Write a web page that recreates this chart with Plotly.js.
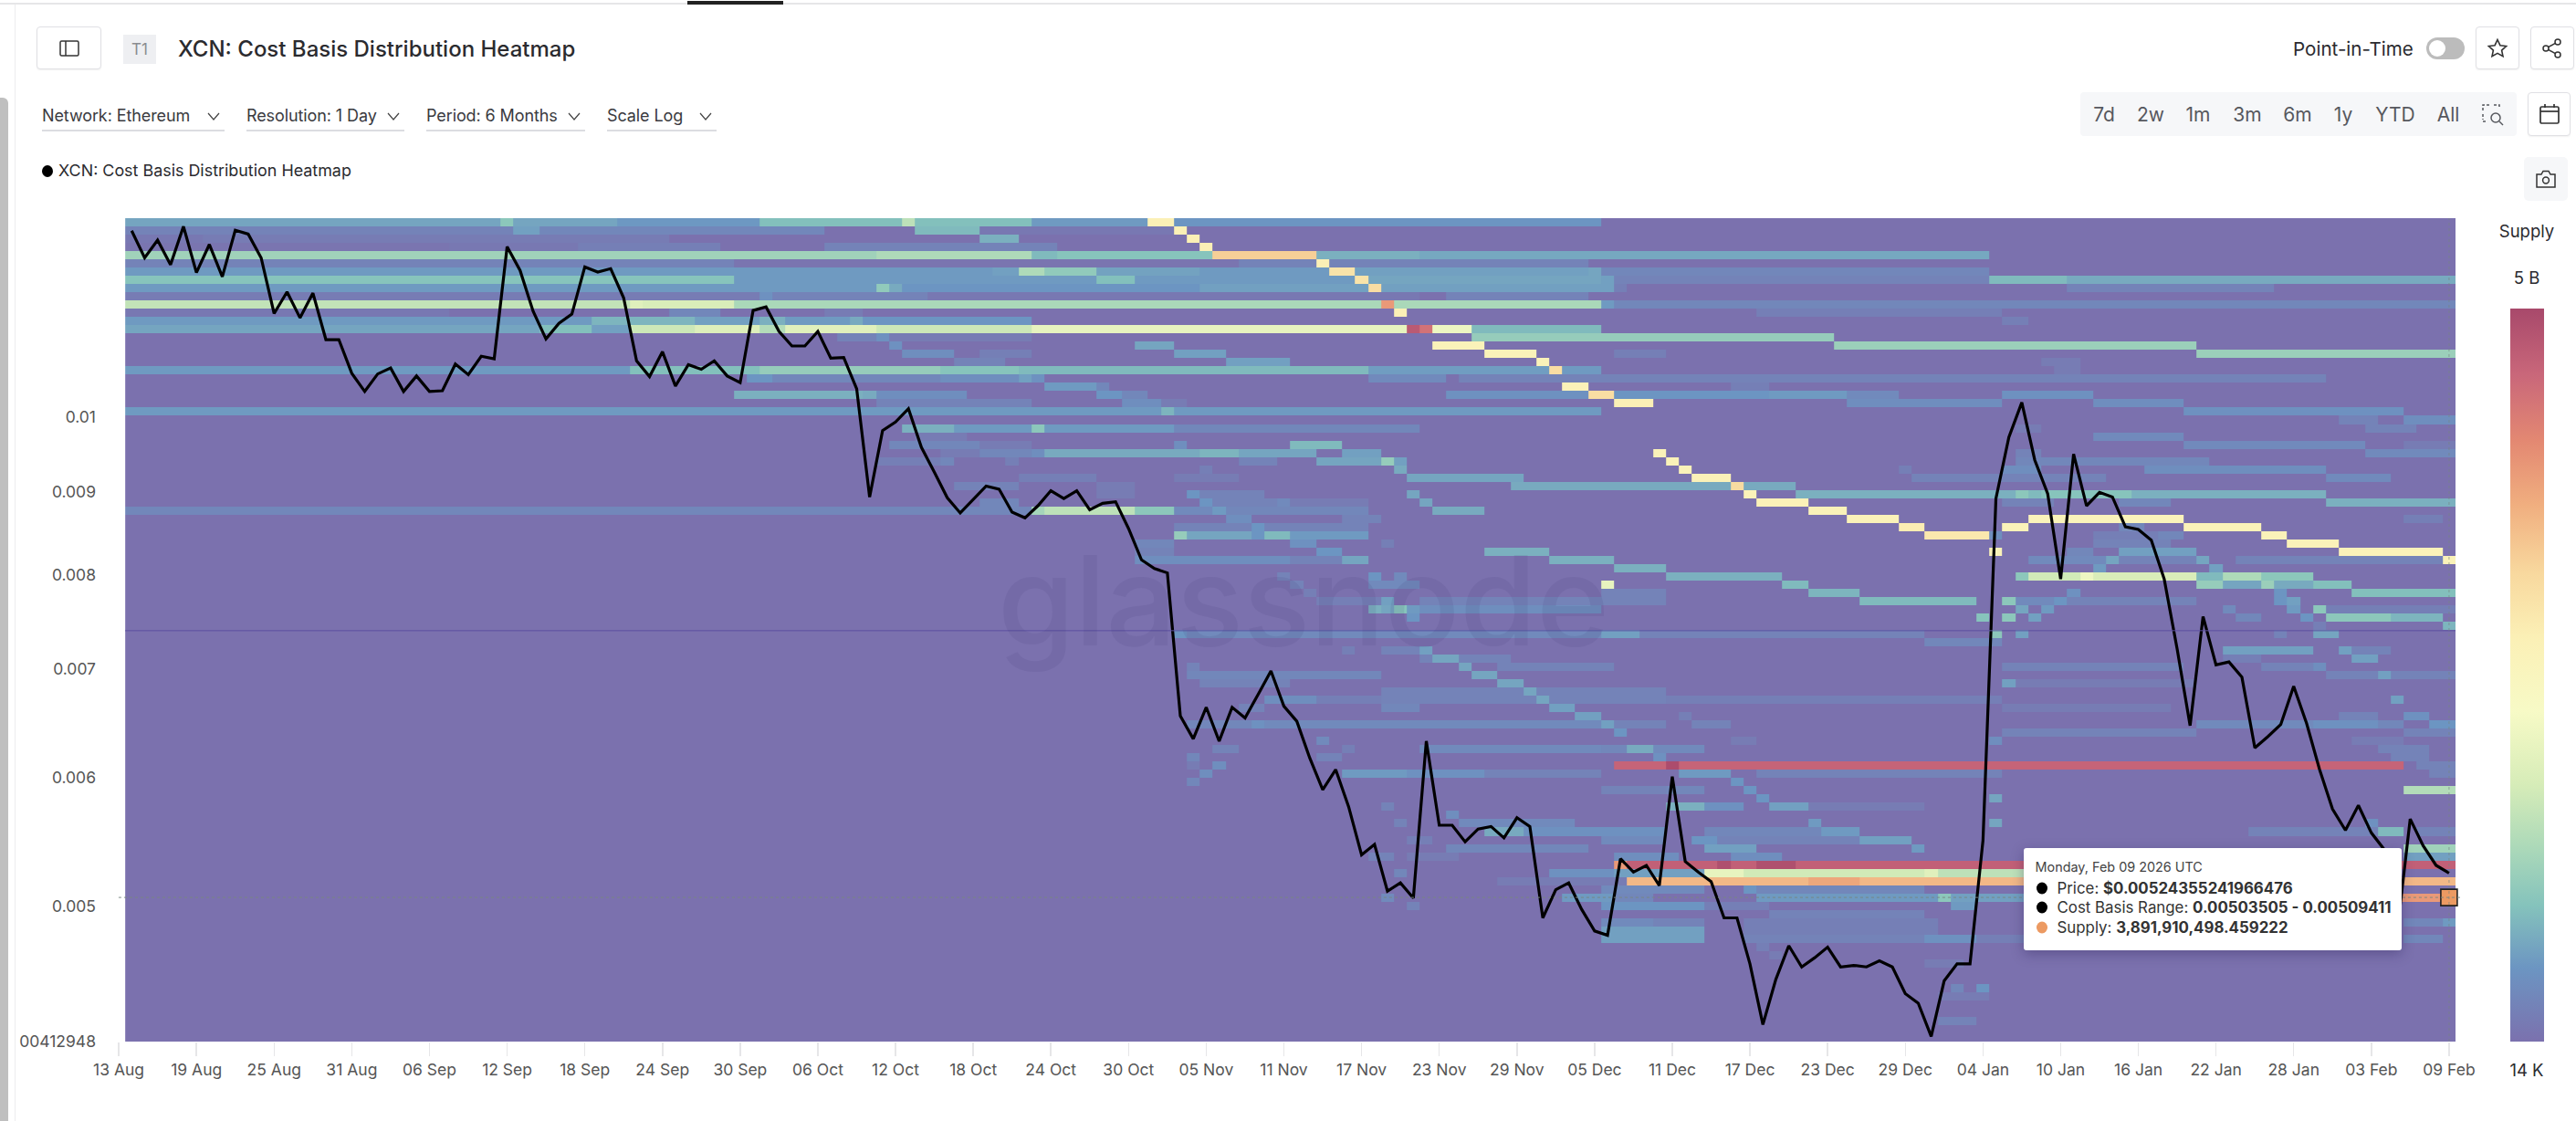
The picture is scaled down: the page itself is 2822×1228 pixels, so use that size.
<!DOCTYPE html>
<html>
<head>
<meta charset="utf-8">
<title>XCN: Cost Basis Distribution Heatmap</title>
<script src="https://cdn.plot.ly/plotly-3.0.1.min.js"></script>
<style>
html,body{margin:0;padding:0;background:#fff;width:2822px;height:1228px;overflow:hidden;font-family:Inter,"Noto Sans",sans-serif;color:#2b2b2f}
#chart{position:absolute;left:0;top:0;width:2822px;height:1228px}
.a{position:absolute;white-space:nowrap}
.v{transform:translateY(-50%)}
.c{transform:translate(-50%,-50%)}
.btn{position:absolute;box-sizing:border-box;border:1.5px solid #e0e0e4;border-radius:4px;background:#fff;box-shadow:0 1px 2px rgba(0,0,0,.06);display:flex;align-items:center;justify-content:center}
.dd{font-size:18px;color:#3a3a40;letter-spacing:-.1px}
.ul{position:absolute;height:1.5px;background:#dcdde1;top:142px}
.rng{font-size:21px;color:#56585e}
#tip{position:absolute;left:2217px;top:929px;width:414px;height:112px;background:#fff;border-radius:3px;box-shadow:0 4px 14px rgba(40,30,80,.35)}
#tip .r{position:absolute;left:36.5px;font-size:16.85px;color:#333;white-space:nowrap;transform:translateY(-50%)}
#tip .d{position:absolute;left:14px;width:12px;height:13px;border-radius:50%;transform:translateY(-50%)}
</style>
</head>
<body>
<div id="chart"></div>

<!-- page chrome -->
<div class="a" style="left:0;top:3px;width:2822px;height:2px;background:#e6e6e8"></div>
<div class="a" style="left:753px;top:1px;width:105px;height:4px;background:#222"></div>
<div class="a" style="left:16px;top:5px;width:1px;height:1223px;background:#ececee"></div>
<div class="a" style="left:0;top:107px;width:9px;height:1121px;background:#bfbfbf;border-radius:0 6px 0 0"></div>

<div class="btn" style="left:40px;top:29px;width:71px;height:47px">
 <svg width="22" height="18" viewBox="0 0 22 18" fill="none" stroke="#333" stroke-width="1.5"><rect x="1" y="1" width="20" height="16" rx="1.5"/><line x1="7" y1="1" x2="7" y2="17"/></svg>
</div>
<div class="a" style="left:135px;top:38px;width:36px;height:32px;background:#eeeff2;color:#8a8b90;font-size:17px;line-height:32px;text-align:center">T1</div>
<div class="a v" style="left:195px;top:53px;font-size:24px;font-weight:500;color:#2b2b2f">XCN: Cost Basis Distribution Heatmap</div>

<div class="a v dd" style="left:46px;top:126px">Network: Ethereum</div>
<svg class="a" style="left:227px;top:123px" width="14" height="9" fill="none" stroke="#444" stroke-width="1.2"><path d="M1 1 L7 8 L13 1"/></svg>
<div class="ul" style="left:46px;width:200px"></div>
<div class="a v dd" style="left:270px;top:126px">Resolution: 1 Day</div>
<svg class="a" style="left:424px;top:123px" width="14" height="9" fill="none" stroke="#444" stroke-width="1.2"><path d="M1 1 L7 8 L13 1"/></svg>
<div class="ul" style="left:270px;width:173px"></div>
<div class="a v dd" style="left:467px;top:126px">Period: 6 Months</div>
<svg class="a" style="left:622px;top:123px" width="14" height="9" fill="none" stroke="#444" stroke-width="1.2"><path d="M1 1 L7 8 L13 1"/></svg>
<div class="ul" style="left:467px;width:174px"></div>
<div class="a v dd" style="left:665px;top:126px">Scale Log</div>
<svg class="a" style="left:766px;top:123px" width="14" height="9" fill="none" stroke="#444" stroke-width="1.2"><path d="M1 1 L7 8 L13 1"/></svg>
<div class="ul" style="left:665px;width:120px"></div>

<div class="a" style="left:46px;top:181px;width:12px;height:13px;border-radius:50%;background:#000"></div>
<div class="a v" style="left:64px;top:186px;font-size:17.9px;color:#2b2b2f">XCN: Cost Basis Distribution Heatmap</div>

<div class="a v" style="left:2512px;top:53px;font-size:20.6px;color:#2b2b2f">Point-in-Time</div>
<div class="a" style="left:2658px;top:41px;width:42px;height:24px;background:#bcbcbc;border-radius:12px"></div>
<div class="a" style="left:2661px;top:44px;width:18px;height:18px;background:#fff;border-radius:50%"></div>
<div class="btn" style="left:2712px;top:29px;width:48px;height:47px">
 <svg width="24" height="24" viewBox="0 0 24 24" fill="none" stroke="#333" stroke-width="1.6"><path d="M12 2.5 l2.9 6.2 6.7 .8 -5 4.6 1.4 6.7 -6-3.4 -6 3.4 1.4-6.7 -5-4.6 6.7-.8z"/></svg>
</div>
<div class="btn" style="left:2772px;top:29px;width:48px;height:47px">
 <svg width="22" height="22" viewBox="0 0 22 22" fill="none" stroke="#333" stroke-width="1.5"><circle cx="4" cy="11" r="3"/><circle cx="17" cy="4" r="3"/><circle cx="17" cy="18" r="3"/><line x1="6.7" y1="9.6" x2="14.3" y2="5.4"/><line x1="6.7" y1="12.4" x2="14.3" y2="16.6"/></svg>
</div>

<div class="a" style="left:2279px;top:101px;width:478px;height:48px;background:#f6f7f9;border-radius:4px"></div>
<div class="a c rng" style="left:2305px;top:125px">7d</div>
<div class="a c rng" style="left:2356px;top:125px">2w</div>
<div class="a c rng" style="left:2408px;top:125px">1m</div>
<div class="a c rng" style="left:2462px;top:125px">3m</div>
<div class="a c rng" style="left:2517px;top:125px">6m</div>
<div class="a c rng" style="left:2567px;top:125px">1y</div>
<div class="a c rng" style="left:2624px;top:125px">YTD</div>
<div class="a c rng" style="left:2682px;top:125px">All</div>
<svg class="a" style="left:2719px;top:114px" width="24" height="24" viewBox="0 0 24 24" fill="none" stroke="#56585e" stroke-width="1.5"><path d="M1 7 V1 H8 M13 1 H19 V5 M1 11 V17 M1 19 H6" stroke-dasharray="3 2"/><circle cx="15" cy="15" r="5"/><line x1="19" y1="19" x2="23" y2="23"/></svg>
<div class="btn" style="left:2769px;top:101px;width:47px;height:48px">
 <svg width="24" height="24" viewBox="0 0 24 24" fill="none" stroke="#333" stroke-width="1.7"><rect x="2" y="4" width="20" height="18" rx="1.5"/><line x1="2" y1="9" x2="22" y2="9"/><line x1="7" y1="1" x2="7" y2="5"/><line x1="17" y1="1" x2="17" y2="5"/></svg>
</div>
<div class="a" style="left:2765px;top:172px;width:48px;height:48px;background:#f6f7f9;border-radius:5px;display:flex;align-items:center;justify-content:center">
 <svg width="22" height="20" viewBox="0 0 22 20" fill="none" stroke="#333" stroke-width="1.5"><path d="M1 5 H6 L8 1.5 H14 L16 5 H21 V19 H1 Z"/><circle cx="11" cy="11.5" r="3.4"/></svg>
</div>

<div class="a c" style="left:2768px;top:253px;font-size:18.5px;color:#2b2b2f">Supply</div>
<div class="a c" style="left:2768px;top:304px;font-size:18.5px;color:#2b2b2f">5 B</div>
<div class="a c" style="left:2768px;top:1172px;font-size:18.5px;color:#2b2b2f">14 K</div>

<div id="tip">
 <div class="r" style="left:12.5px;top:20px;font-size:14.4px;color:#444">Monday, Feb 09 2026 UTC</div>
 <div class="d" style="top:44px;background:#000"></div>
 <div class="r" style="top:44px">Price: <b style="font-weight:700">$0.00524355241966476</b></div>
 <div class="d" style="top:65px;background:#000"></div>
 <div class="r" style="top:65px">Cost Basis Range: <b style="font-weight:700">0.00503505 - 0.00509411</b></div>
 <div class="d" style="top:87px;background:#ec9a62"></div>
 <div class="r" style="top:87px">Supply: <b style="font-weight:700">3,891,910,498.459222</b></div>
</div>

<script>
// ---- Axis labels ----------------------------------------------------
const startDate = '2025-08-13';
const dayCount = 180;                    // columns run from day 1 to day 180 after startDate
const yTickVals = [0.00412948, 0.005, 0.006, 0.007, 0.008, 0.009, 0.01];
const yTickText = ['00412948', '0.005', '0.006', '0.007', '0.008', '0.009', '0.01'];

// ---- Cost basis price bins: log spaced, 100 rows ---------------------
const binStart = 0.00412948;
const binRatio = 1.01173;
const binCount = 100;

// ---- Price series, one value per day (day 1 ... day 180) -------------
const price = [
0.01302,0.01253,0.01285,0.01241,0.01310,0.01227,0.01277,0.01220,0.01303,0.01296,
0.01253,0.01158,0.01194,0.01151,0.01192,0.01116,0.01116,0.01064,0.01037,0.01063,
0.01072,0.01037,0.01060,0.01037,0.01038,0.01078,0.01062,0.01090,0.01086,0.01273,
0.01231,0.01162,0.01117,0.01142,0.01157,0.01237,0.01228,0.01234,0.01184,0.01083,
0.01059,0.01097,0.01045,0.01077,0.01070,0.01083,0.01060,0.01050,0.01163,0.01169,
0.01129,0.01106,0.01106,0.01129,0.01087,0.01088,0.01041,0.00893,0.00981,0.00993,
0.01012,0.00958,0.00925,0.00892,0.00873,0.00890,0.00907,0.00903,0.00874,0.00867,
0.00882,0.00901,0.00891,0.00901,0.00877,0.00885,0.00887,0.00854,0.00817,0.00807,
0.00802,0.00655,0.00634,0.00663,0.00632,0.00663,0.00653,0.00675,0.00698,0.00664,
0.00650,0.00617,0.00590,0.00607,0.00576,0.00538,0.00546,0.00511,0.00517,0.00506,
0.00632,0.00561,0.00561,0.00548,0.00558,0.00560,0.00551,0.00567,0.00560,0.00492,
0.00512,0.00517,0.00498,0.00483,0.00480,0.00535,0.00525,0.00530,0.00515,0.00601,
0.00533,0.00525,0.00518,0.00492,0.00492,0.00461,0.00423,0.00451,0.00473,0.00459,
0.00465,0.00472,0.00459,0.00460,0.00459,0.00463,0.00459,0.00442,0.00436,0.00416,
0.00450,0.00461,0.00461,0.00549,0.00891,0.00972,0.01021,0.00941,0.00897,0.00795,
0.00949,0.00882,0.00899,0.00893,0.00856,0.00853,0.00840,0.00795,0.00720,0.00646,
0.00754,0.00704,0.00707,0.00692,0.00626,0.00636,0.00647,0.00683,0.00648,0.00607,
0.00574,0.00557,0.00577,0.00555,0.00542,0.00483,0.00566,0.00545,0.00530,0.00524355
];

// ---- Supply ---------------------------------------------------------
const supplyMin = 14e3;
const supplyMax = 5e9;
const hoverSupply = 3891910498.459222;
const hoverRange = [0.00503505, 0.00509411];
const refPrice = 0.00739;
// [row from the top, first day, last day, supply as a share of supplyMax]
const bands = [
[0,1,29,.13],[0,30,30,.2],[0,31,38,.13],[0,39,49,.105],[0,50,60,.18],[0,61,61,.3],[0,62,70,.18],[0,71,79,.11],[0,80,81,.55],[0,82,114,.1],
[1,1,30,.05],[1,31,32,.12],[1,33,54,.06],[1,62,66,.17],[1,67,81,.02],[1,82,82,.55],
[2,1,6,.02],[2,7,42,.03],[2,67,69,.15],[2,83,83,.55],
[3,1,25,.01],[3,26,35,.02],[3,36,46,.04],[3,55,72,.05],[3,84,84,.55],
[4,1,58,.24],[4,59,70,.27],[4,71,72,.17],[4,73,84,.19],[4,85,92,.66],[4,93,100,.15],[4,101,144,.135],
[5,1,47,.05],[5,48,86,.01],[5,87,92,.05],[5,93,93,.55],[5,94,113,.05],
[6,1,67,.11],[6,68,69,.12],[6,70,71,.27],[6,72,75,.21],[6,76,83,.125],[6,84,93,.11],[6,94,95,.6],[6,96,113,.12],[6,114,114,.13],[6,115,144,.06],
[7,1,47,.19],[7,48,75,.11],[7,76,78,.18],[7,79,95,.11],[7,96,96,.6],[7,97,114,.13],[7,115,115,.12],[7,116,144,.05],[7,145,150,.17],[7,151,180,.14],
[8,1,58,.11],[8,59,59,.21],[8,60,60,.14],[8,61,83,.1],[8,84,96,.12],[8,97,97,.62],[8,98,115,.12],[8,116,116,.04],[8,151,166,.05],
[9,1,49,.03],[9,50,50,.09],[9,51,62,.05],[9,63,100,.02],[9,103,113,.05],
[10,1,39,.31],[10,40,40,.38],[10,41,47,.36],[10,48,97,.26],[10,98,98,.78],[10,99,114,.26],[10,115,115,.11],[10,116,180,.06],
[11,1,25,.02],[11,43,46,.06],[11,55,57,.03],[11,99,99,.55],[11,127,145,.04],
[12,1,36,.11],[12,37,44,.16],[12,45,49,.12],[12,50,51,.15],[12,52,56,.11],[12,57,57,.14],[12,58,70,.1],[12,146,147,.04],
[13,1,32,.13],[13,33,36,.18],[13,37,39,.12],[13,40,44,.33],[13,45,49,.37],[13,50,51,.28],[13,52,58,.38],[13,59,70,.33],[13,71,99,.4],[13,100,100,.95],[13,101,101,.88],[13,102,104,.42],[13,105,114,.17],
[14,56,58,.05],[14,59,59,.09],[14,60,70,.03],[14,105,132,.22],
[15,60,60,.09],[15,79,81,.13],[15,102,105,.53],[15,133,160,.23],
[16,61,64,.08],[16,67,70,.04],[16,82,85,.12],[16,106,109,.53],[16,116,119,.04],[16,161,180,.23],
[17,65,68,.05],[17,86,90,.12],[17,110,110,.53],[17,149,151,.03],
[18,1,39,.11],[18,40,49,.18],[18,50,63,.22],[18,64,69,.19],[18,70,96,.17],[18,97,110,.115],[18,111,111,.62],[18,112,114,.11],[18,150,151,.03],
[19,49,50,.1],[19,51,63,.06],[19,64,69,.08],[19,70,70,.12],[19,71,71,.09],[19,97,102,.07],[19,104,170,.05],
[20,72,75,.11],[20,76,76,.06],[20,112,113,.54],[20,125,127,.04],
[21,48,57,.15],[21,58,58,.14],[21,59,65,.08],[21,76,77,.1],[21,78,79,.06],[21,103,113,.09],[21,114,115,.62],[21,116,127,.1],[21,128,133,.11],[21,134,137,.07],[21,146,152,.09],
[22,59,70,.05],[22,78,80,.08],[22,81,82,.03],[22,116,118,.55],[22,134,145,.08],[22,153,159,.08],
[23,1,80,.11],[23,81,81,.16],[23,82,114,.11],[23,160,176,.09],
[24,172,174,.05],[24,177,180,.08],
[25,61,64,.15],[25,65,70,.11],[25,71,71,.2],[25,72,81,.11],[25,82,100,.06],[25,147,148,.03],[25,174,177,.05],
[26,62,65,.03],[26,153,159,.07],
[27,60,66,.06],[27,67,70,.03],[27,82,82,.08],[27,91,94,.17],[27,160,173,.07],[27,177,180,.03],
[28,64,66,.03],[28,67,70,.06],[28,71,71,.08],[28,72,83,.14],[28,84,86,.16],[28,87,92,.13],[28,95,97,.12],[28,119,119,.53],[28,147,148,.05],[28,174,180,.07],
[29,59,63,.04],[29,64,64,.06],[29,69,69,.04],[29,87,89,.05],[29,93,97,.13],[29,98,98,.22],[29,99,99,.12],[29,120,120,.53],[29,147,161,.06],
[30,84,84,.04],[30,99,99,.14],[30,121,121,.53],[30,138,138,.04],[30,146,148,.08],[30,157,170,.08],
[31,70,75,.04],[31,82,86,.03],[31,100,108,.13],[31,122,124,.54],[31,139,145,.05],[31,146,153,.05],[31,171,175,.07],
[32,65,69,.05],[32,76,78,.03],[32,108,124,.14],[32,125,125,.63],[32,126,129,.14],
[33,76,78,.03],[33,83,83,.1],[33,84,88,.05],[33,100,100,.13],[33,126,126,.53],[33,130,146,.15],[33,147,147,.2],[33,148,148,.17],[33,149,155,.19],[33,156,170,.15],
[34,67,69,.06],[34,84,84,.1],[34,85,89,.05],[34,90,90,.07],[34,91,96,.03],[34,101,101,.13],[34,127,130,.54],[34,146,149,.05],[34,155,158,.06],[34,171,180,.15],
[35,1,70,.06],[35,71,71,.25],[35,72,78,.3],[35,79,81,.2],[35,82,84,.07],[35,85,85,.11],[35,86,96,.06],[35,102,105,.14],[35,131,133,.53],
[36,86,87,.08],[36,95,97,.05],[36,134,137,.53],[36,148,159,.52],[36,177,179,.04],
[37,82,87,.05],[37,88,88,.1],[37,89,96,.05],[37,138,139,.56],[37,146,147,.53],[37,155,156,.06],[37,160,165,.53],
[38,82,82,.22],[38,83,87,.13],[38,88,88,.1],[38,89,90,.17],[38,91,96,.11],[38,140,144,.58],[38,145,145,.08],[38,153,157,.04],[38,158,159,.06],[38,166,167,.53],
[39,79,81,.06],[39,91,92,.09],[39,98,98,.04],[39,153,158,.05],[39,168,171,.53],
[40,79,81,.05],[40,93,94,.1],[40,106,110,.15],[40,145,145,.53],[40,151,152,.06],[40,155,160,.12],[40,172,179,.53],
[41,79,90,.08],[41,91,94,.05],[41,95,96,.13],[41,111,115,.15],[41,148,153,.07],[41,154,154,.13],[41,155,160,.05],[41,161,161,.13],[41,164,179,.05],[41,180,180,.53],
[42,116,119,.15],[42,153,153,.11],[42,162,162,.12],
[43,90,90,.05],[43,97,97,.1],[43,99,99,.07],[43,120,128,.15],[43,147,147,.2],[43,148,151,.34],[43,152,152,.42],[43,153,160,.36],[43,161,162,.17],[43,163,165,.27],[43,166,169,.2],
[44,91,91,.05],[44,97,100,.07],[44,115,115,.4],[44,129,130,.17],[44,161,162,.22],[44,163,165,.13],[44,166,166,.23],[44,167,169,.14],[44,170,172,.18],
[45,92,92,.04],[45,115,119,.05],[45,131,134,.16],[45,151,151,.09],[45,167,167,.1],[45,173,180,.18],
[46,93,97,.04],[46,98,98,.12],[46,101,119,.05],[46,135,143,.17],[46,146,146,.2],[46,147,149,.07],[46,150,150,.1],[46,151,160,.05],[46,167,167,.1],[46,168,168,.12],
[47,97,97,.15],[47,98,98,.13],[47,99,99,.19],[47,100,100,.11],[47,101,114,.08],[47,147,147,.13],[47,149,149,.11],[47,163,163,.07],[47,168,168,.11],[47,170,170,.2],[47,171,180,.04],
[48,100,100,.1],[48,144,144,.19],[48,146,146,.2],[48,148,148,.12],[48,164,165,.06],[48,169,169,.1],[48,171,175,.2],[48,176,179,.16],
[49,170,170,.04],[49,180,180,.16],
[50,82,82,.1],[50,83,114,.07],[50,115,117,.12],[50,118,139,.05],[50,145,145,.2],[50,147,147,.12],[50,167,167,.05],[50,170,171,.13],
[51,140,145,.06],
[52,95,95,.04],[52,98,100,.05],[52,101,101,.12],[52,163,169,.12],[52,172,172,.12],[52,173,175,.05],
[53,101,101,.05],[53,102,103,.13],[53,104,107,.05],[53,163,165,.04],[53,173,174,.12],
[54,83,83,.05],[54,104,104,.13],[54,107,115,.05],[54,146,159,.05],[54,166,169,.05],[54,170,170,.08],
[55,83,97,.06],[55,105,106,.13],[55,171,174,.05],[55,175,175,.12],[55,176,180,.05],
[56,84,90,.05],[56,107,108,.13],[56,146,146,.12],[56,147,160,.03],
[57,98,108,.05],[57,109,109,.13],[57,110,119,.05],
[58,89,92,.08],[58,93,97,.04],[58,98,109,.05],[58,110,110,.13],[58,111,119,.05],[58,120,145,.04],[58,176,176,.12],
[59,87,88,.05],[59,98,100,.06],[59,111,112,.12],[59,146,158,.03],
[60,113,114,.12],[60,121,121,.04],[60,172,174,.05],[60,177,178,.09],
[61,83,87,.06],[61,88,88,.09],[61,89,114,.07],[61,115,115,.12],[61,116,119,.05],[61,122,124,.05],[61,161,169,.07],[61,170,174,.09],[61,175,176,.06],[61,179,180,.1],
[62,116,116,.1],[62,146,160,.05],[62,177,180,.05],
[63,93,93,.07],[63,125,126,.03],[63,145,145,.08],[63,173,176,.03],
[64,85,86,.05],[64,95,95,.04],[64,101,114,.07],[64,115,116,.06],[64,117,118,.14],[64,119,122,.07],[64,175,178,.05],
[65,83,83,.06],[65,93,94,.05],[65,119,119,.09],[65,176,178,.05],
[66,83,83,.03],[66,85,85,.08],[66,116,119,.92],[66,120,120,.99],[66,121,176,.92],[66,178,180,.05],
[67,84,84,.08],[67,95,99,.11],[67,100,105,.09],[67,106,114,.05],[67,121,124,.11],[67,127,145,.05],[67,179,180,.05],
[68,83,83,.06],[68,125,125,.1],
[69,115,119,.05],[69,120,122,.06],[69,126,126,.1],[69,177,180,.28],
[70,127,127,.1],[70,145,145,.13],
[71,98,98,.05],[71,120,122,.15],[71,123,125,.09],[71,128,130,.12],[71,131,139,.03],
[72,103,103,.08],
[73,99,99,.05],[73,104,112,.07],[73,131,131,.11],[73,145,145,.13],[73,174,174,.09],
[74,106,108,.14],[74,109,119,.09],[74,123,131,.06],[74,132,134,.11],[74,165,174,.05],[74,175,176,.17],[74,178,180,.05],
[75,100,101,.04],[75,115,119,.07],[75,122,123,.1],[75,124,134,.05],[75,135,138,.12],
[76,103,113,.06],[76,123,126,.12],[76,139,139,.11],[76,177,180,.24],
[77,97,98,.05],[77,100,103,.03],[77,116,120,.08],[77,125,128,.08],[77,177,180,.12],
[78,116,116,.78],[78,117,123,.93],[78,124,124,.98],[78,125,126,.93],[78,127,129,.98],[78,130,180,.93],
[79,99,99,.06],[79,111,115,.09],[79,116,122,.12],[79,123,125,.4],[79,126,139,.34],[79,140,140,.38],[79,141,160,.3],
[80,107,116,.03],[80,117,130,.71],[80,131,134,.75],[80,135,180,.71],
[81,115,122,.07],[81,126,126,.1],[81,127,139,.06],
[82,98,98,.07],[82,112,115,.11],[82,116,118,.06],[82,127,140,.11],[82,141,141,.2],[82,142,147,.12],[82,170,180,.78],
[83,100,100,.05],[83,115,122,.1],[83,123,127,.04],[83,142,143,.11],
[84,128,139,.05],
[85,115,118,.07],[85,119,122,.05],[85,126,140,.04],[85,177,179,.06],[85,180,180,.11],
[86,115,122,.12],[86,126,140,.04],
[87,115,122,.12],[87,126,139,.05],[87,140,143,.09],[87,144,147,.04],[87,177,179,.06],
[88,127,127,.04],[89,128,128,.03],[90,140,142,.03],
[93,142,142,.06],[93,144,144,.1],[94,141,144,.03],[97,141,143,.05]
];

// ---- Colours ----------------------------------------------------------
const colorStops = [
[0,'#7b71ae'],[.10,'#6c95c2'],[.186,'#85c3bc'],[.265,'#acd9b9'],[.35,'#d6ecb8'],[.45,'#f7fac6'],
[.55,'#fbf0b6'],[.64,'#f8d89e'],[.733,'#f0ae7f'],[.82,'#e38872'],[.91,'#c9677a'],[1,'#a8496b']
];

// ---- Build -------------------------------------------------------------
const DAY = 86400000;
const dateAt = d => new Date(Date.parse(startDate + 'T00:00:00Z') + d * DAY).toISOString().slice(0, 10);
const days = Array.from({length: dayCount}, (_, i) => dateAt(i + 1));
const yEdges = Array.from({length: binCount + 1}, (_, i) => binStart * Math.pow(binRatio, i));
const z = Array.from({length: binCount}, () => new Array(dayCount).fill(supplyMin));
bands.forEach(([row, a, b, share]) => {
  const line = z[binCount - 1 - row];
  for (let d = a; d <= b; d++) line[d - 1] = supplyMin + share * (supplyMax - supplyMin);
});

const heat = {
  type: 'heatmap', x: days, y: yEdges, z: z, zmin: supplyMin, zmax: supplyMax,
  colorscale: colorStops, zsmooth: false, hoverinfo: 'skip', showscale: true,
  colorbar: {
    thickness: 37, thicknessmode: 'pixels', len: 803, lenmode: 'pixels',
    x: (2750 - 123) / (2689.6 - 123), xanchor: 'left', xpad: 0,
    y: 0, yanchor: 'bottom', ypad: 0, outlinewidth: 0, borderwidth: 0,
    showticklabels: false, ticks: ''
  }
};
const priceLine = {
  type: 'scatter', mode: 'lines', x: days, y: price, hoverinfo: 'skip', showlegend: false,
  line: {color: '#000', width: 3.2, shape: 'linear'}
};
const hoverMark = {
  type: 'scatter', mode: 'markers', x: [days[dayCount - 1]], y: [Math.sqrt(hoverRange[0] * hoverRange[1])],
  cliponaxis: false, hoverinfo: 'skip', showlegend: false,
  marker: {symbol: 'square', size: 18, color: '#ec9a62', line: {color: '#222', width: 1.6}}
};

const layout = {
  width: 2822, height: 1228,
  margin: {l: 123, r: 132.4, t: 239, b: 87, pad: 0},
  paper_bgcolor: 'rgba(0,0,0,0)', plot_bgcolor: '#fff',
  font: {family: 'Inter, sans-serif', size: 17.5, color: '#555'},
  showlegend: false,
  xaxis: {
    type: 'date', range: [dateAt(-1) + ' 12:00', dateAt(180) + ' 12:00'],
    tick0: startDate, dtick: 6 * DAY, tickformat: '%d %b',
    ticks: 'outside', ticklen: 15, tickwidth: 1.5, tickcolor: '#e6e6e8',
    showgrid: false, zeroline: false, showline: false
  },
  yaxis: {
    type: 'log', range: [Math.log10(yEdges[0]), Math.log10(yEdges[binCount])],
    tickmode: 'array', tickvals: yTickVals, ticktext: yTickText,
    ticks: '', ticklabelstandoff: 17, showgrid: false, zeroline: false, showline: false
  },
  shapes: [
    {type: 'line', xref: 'x', yref: 'y', x0: dateAt(0) + ' 12:00', x1: dateAt(180) + ' 12:00', y0: refPrice, y1: refPrice,
     line: {color: '#5b4fa0', width: 1}},
    {type: 'line', xref: 'paper', yref: 'y', x0: 0.0027, x1: 1.003, y0: Math.sqrt(hoverRange[0] * hoverRange[1]), y1: Math.sqrt(hoverRange[0] * hoverRange[1]),
     line: {color: 'rgba(120,135,130,.75)', width: 1.2, dash: 'dot'}},
    {type: 'line', xref: 'x', yref: 'paper', x0: days[dayCount - 1], x1: days[dayCount - 1], y0: 0, y1: 1,
     line: {color: 'rgba(120,135,130,.55)', width: 1.2, dash: 'dot'}}
  ],
  annotations: [
    {xref: 'paper', yref: 'paper', x: (1428 - 123) / 2566.6, y: (1141 - 657) / 902, xanchor: 'center', yanchor: 'middle',
     text: 'glassnode', showarrow: false, font: {family: 'Inter, sans-serif', size: 136, color: 'rgba(60,50,110,0.1)', weight: 500}}
  ]
};
Plotly.newPlot('chart', [heat, priceLine, hoverMark], layout, {staticPlot: true, displayModeBar: false, responsive: false});
</script>
</body>
</html>
